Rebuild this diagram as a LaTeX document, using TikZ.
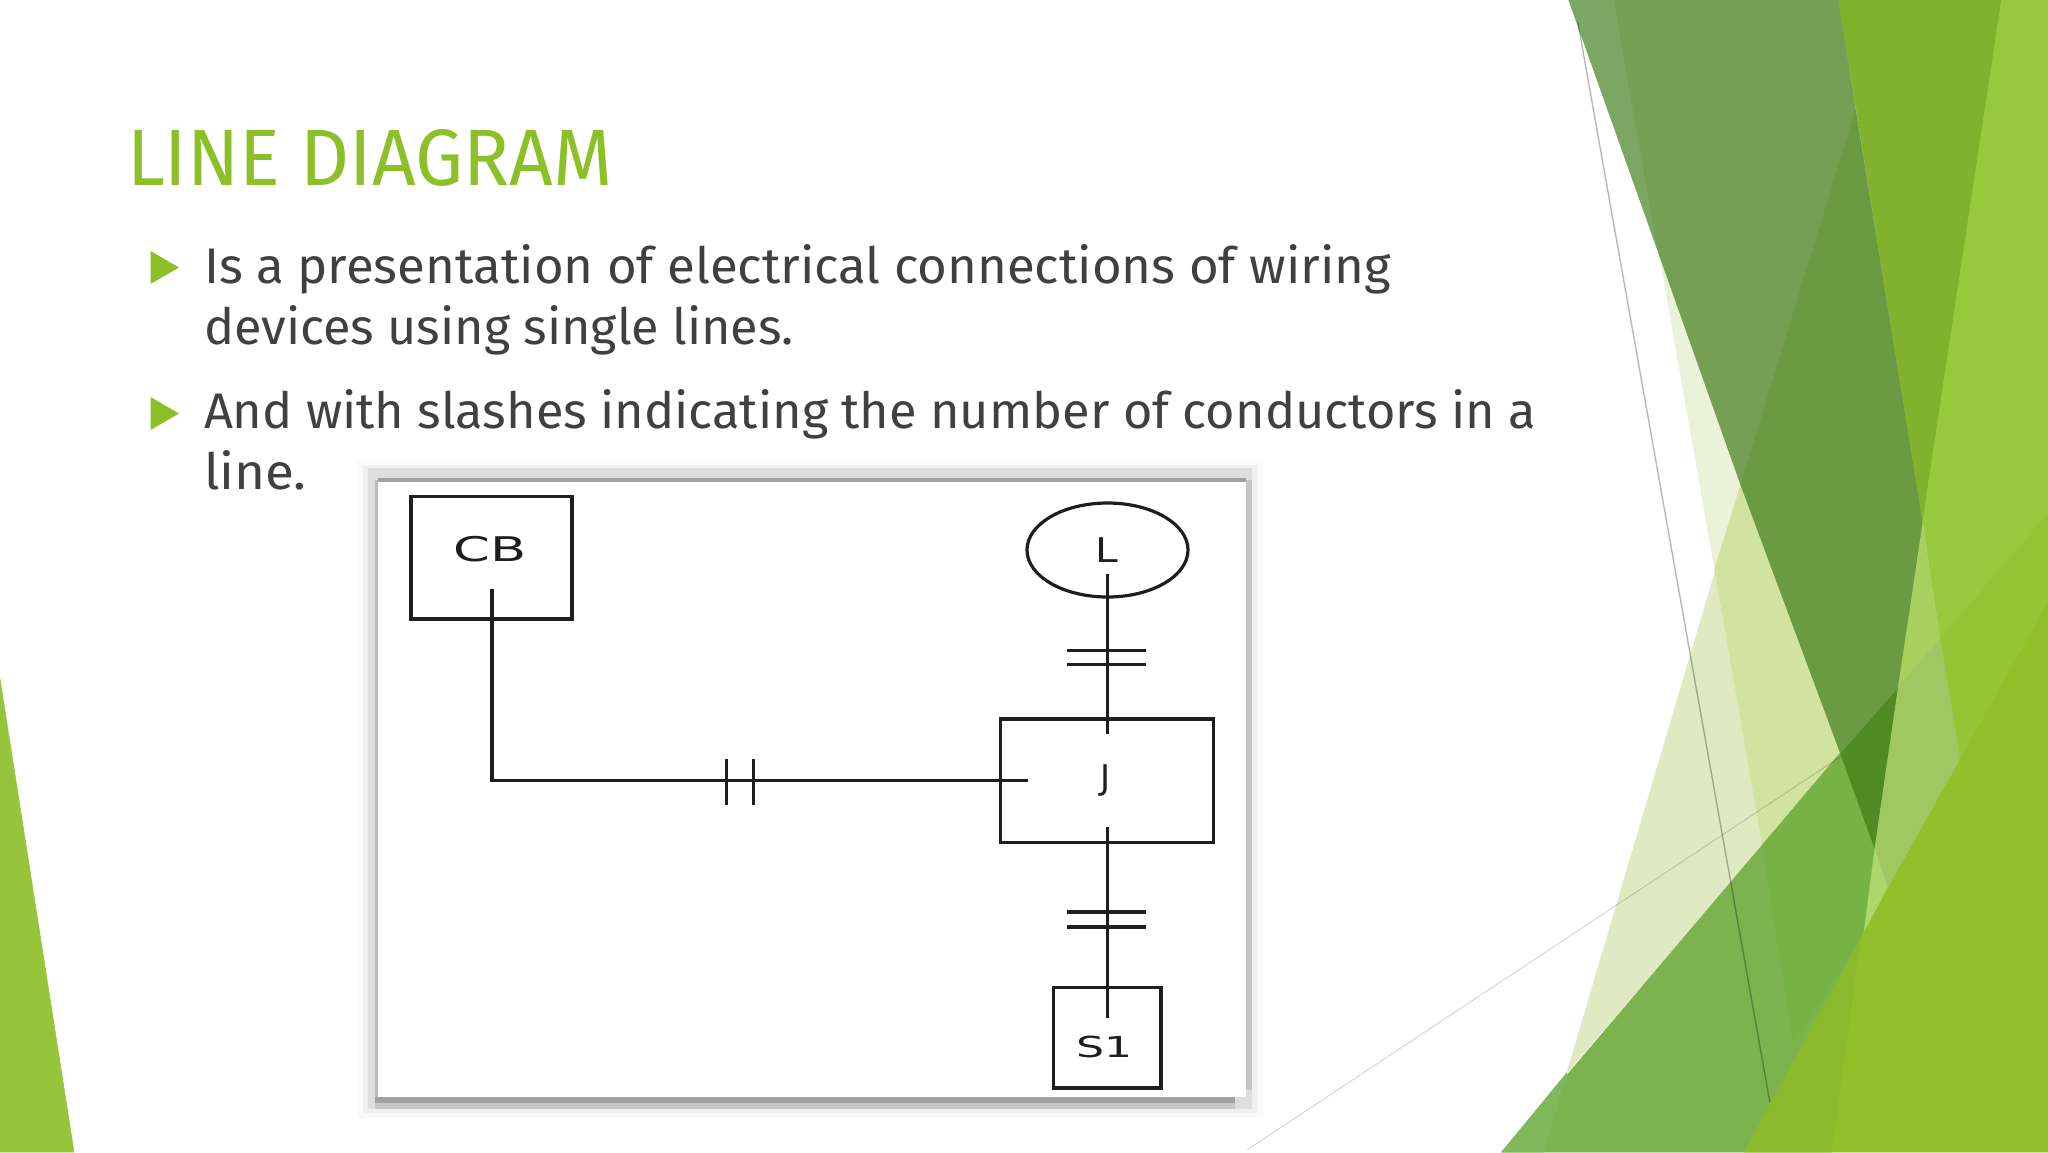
\documentclass[tikz,border=0pt]{standalone}
\usepackage{fontspec}
\setmainfont{Fira Sans}
\newfontfamily\diafont{DejaVu Sans}
\usetikzlibrary{shapes.geometric}
\definecolor{titlegreen}{HTML}{8DC028}
\definecolor{bodygrey}{HTML}{404040}
\definecolor{wire}{HTML}{1E1E1E}
\definecolor{fleft}{HTML}{96C53C}
\definecolor{fa}{HTML}{EAF2D8}
\definecolor{fb}{HTML}{DFEAC3}
\definecolor{fc}{HTML}{D0E4A0}
\definecolor{fd}{HTML}{7CB34F}
\definecolor{fe}{HTML}{82B85C}
\definecolor{ff}{HTML}{76B246}
\definecolor{fg}{HTML}{4F8A22}
\definecolor{fh}{HTML}{7CA762}
\definecolor{fi}{HTML}{759F55}
\definecolor{fj}{HTML}{6A9A42}
\definecolor{fk}{HTML}{80B22E}
\definecolor{fl}{HTML}{98C83B}
\definecolor{fm}{HTML}{95C535}
\definecolor{fn}{HTML}{A7D05F}
\definecolor{fo}{HTML}{A0C862}
\definecolor{fp}{HTML}{ABD76B}
\definecolor{fq}{HTML}{92C02A}
\definecolor{fr}{HTML}{8ABA2C}
\tikzset{
  body/.style={anchor=base west,inner sep=0pt,outer sep=0pt,text=bodygrey,font=\fontsize{50}{60}\selectfont},
  heading/.style={anchor=base west,inner sep=0pt,outer sep=0pt,text=titlegreen,font=\fontsize{80}{90}\selectfont},
  bulletmark/.style={fill=titlegreen,draw=none},
  facet/.style={fill=#1,draw=#1,line width=.6pt,line join=round},
  wirebox/.style={draw=wire,line width=3.2pt,inner sep=0pt,fill=none},
  wireline/.style={draw=wire,line width=3.6pt},
  tick/.style={draw=wire,line width=3.4pt},
  dia/.style={text=wire,inner sep=0pt,font=\diafont\fontsize{34}{34}\selectfont},
}
\begin{document}
\begin{tikzpicture}[x=1pt,y=-1pt]
\useasboundingbox (0,0) rectangle (2048,1152);
\fill[white] (0,0) rectangle (2048,1152);
% left corner
\path[facet=fleft] (0,679) -- (74,1152) -- (0,1152) -- cycle;
% right facets, in the crop's own grid
\begin{scope}[shift={(1480,0)},x=0.36224pt,y=-0.73469pt]
\path[facet=fa] (495,345) -- (720,660) -- (648,775) -- cycle;
\path[facet=fb] (720,660) -- (648,775) -- (780,1150) -- (240,1460) -- cycle;
\path[facet=fc] (648,775) -- (720,660) -- (995,1025) -- (780,1150) -- cycle;
\path[facet=fd] (995,1025) -- (1090,1155) -- (1060,1270) -- (730,1568) -- (60,1568) -- cycle;
\path[facet=fe] (60,1568) -- (240,1460) -- (175,1568) -- cycle;
\path[facet=ff] (780,1150) -- (995,1025) -- (1090,1155) -- (1060,1270) -- (865,1420) -- cycle;
\path[facet=fg] (995,1025) -- (1155,935) -- (1090,1155) -- cycle;
\path[facet=fh] (245,0) -- (370,0) -- (490,340) -- cycle;
\path[facet=fi] (370,0) -- (990,0) -- (1037,150) -- (720,660) -- (490,340) -- cycle;
\path[facet=fj] (1037,150) -- (1222,710) -- (1155,935) -- (995,1025) -- (720,660) -- cycle;
\path[facet=fk] (990,0) -- (1440,0) -- (1222,710) -- cycle;
\path[facet=fl] (1440,0) -- (1568,0) -- (1568,700) -- (1270,870) -- (1222,710) -- cycle;
\path[facet=fm] (1568,700) -- (1270,870) -- (1325,1035) -- (1568,820) -- cycle;
\path[facet=fn] (1222,715) -- (1270,870) -- (1155,935) -- cycle;
\path[facet=fo] (1155,935) -- (1270,870) -- (1325,1035) -- (1125,1210) -- (1090,1155) -- cycle;
\path[facet=fp] (1090,1155) -- (1125,1210) -- (1060,1270) -- cycle;
\path[facet=fq] (1568,820) -- (1568,1568) -- (730,1568) -- (1060,1270) -- (1125,1210) -- (1325,1035) -- cycle;
\path[facet=fr] (1050,1280) -- (970,1568) -- (730,1568) -- cycle;
\draw[draw=black,opacity=.28,line width=1.4pt] (270,30) -- (800,1500);
\draw[draw=black,opacity=.16,line width=1pt] (-643,1565) -- (995,1030);
\end{scope}
% text
\node[heading] (title) at (127,185) {\scalebox{.953}[1]{LINE DIAGRAM}};
\fill[bulletmark] (150.5,251) -- (179,267.5) -- (150.5,284) -- cycle;
\fill[bulletmark] (150.5,397) -- (179,413.5) -- (150.5,430) -- cycle;
\node[body] (t1) at (204,283) {\scalebox{1.02}[1]{Is a presentation of electrical connections of wiring}};
\node[body] (t2) at (204,344) {\scalebox{1.007}[1]{devices using single lines.}};
\node[body] (t3) at (204,428) {\scalebox{1.01}[1]{And with slashes indicating the number of conductors in a}};
\node[body] (t4) at (204,489) {\scalebox{1.06}[1]{line.}};
% picture frame
\fill[black!2] (357,460) rectangle (1264,1118);
\fill[black!6] (363,465) rectangle (1258,1113);
\fill[black!13] (368,468) rectangle (1252,1109);
\fill[black!23] (1246,480) rectangle (1252,1090);
\fill[black!22] (375,1103) rectangle (1235,1109);
\fill[black!37] (375,1097) rectangle (1235,1103);
\fill[black!37] (378,478) rectangle (1246,482);
\fill[black!27] (375,480) rectangle (378,1097);
\fill[white] (378,482) rectangle (1246,1097);
% diagram
\node[wirebox,minimum width=161pt,minimum height=122.6pt] (CB) at (491.5,557.7) {};
\node[wirebox,ellipse,minimum width=161pt,minimum height=94pt] (L) at (1107.5,550) {};
\node[wirebox,minimum width=212.8pt,minimum height=123.5pt] (J) at (1107,780.7) {};
\node[wirebox,minimum width=107.6pt,minimum height=100.3pt] (S) at (1107.2,1037.8) {};
\node[dia] (cbt) at (490,549) {\scalebox{1.55}[1]{CB}};
\node[dia] (lt) at (1107,550) {\scalebox{1.2}[1]{L}};
\node[dia] (jt) at (1106,780) {J};
\node[dia] (st) at (1105,1047) {\scalebox{1.3}[.85]{S1}};
\coordinate (cbin) at (491.7,589);
\coordinate (bend) at (491.7,780.5);
\coordinate (jin) at (1028,780.5);
\coordinate (lin) at (1107.4,573.6);
\coordinate (jtop) at (1107.4,734);
\coordinate (jbot) at (1107.4,827);
\coordinate (sin) at (1107.4,1018);
\draw[wireline] (cbin) -- (bend) -- (jin);
\draw[wireline] (lin) -- (jtop);
\draw[wireline] (jbot) -- (sin);
\coordinate (a1) at (726.7,758.8); \coordinate (a2) at (726.7,804.7);
\coordinate (b1) at (753.7,758.8); \coordinate (b2) at (753.7,804.7);
\coordinate (c1) at (1067,650.3); \coordinate (c2) at (1146,650.3);
\coordinate (d1) at (1067,664.7); \coordinate (d2) at (1146,664.7);
\coordinate (e1) at (1067,912); \coordinate (e2) at (1146,912);
\coordinate (f1) at (1067,927); \coordinate (f2) at (1146,927);
\draw[tick] (a1) -- (a2);
\draw[tick] (b1) -- (b2);
\draw[tick] (c1) -- (c2);
\draw[tick] (d1) -- (d2);
\draw[tick] (e1) -- (e2);
\draw[tick] (f1) -- (f2);
\end{tikzpicture}
\end{document}
